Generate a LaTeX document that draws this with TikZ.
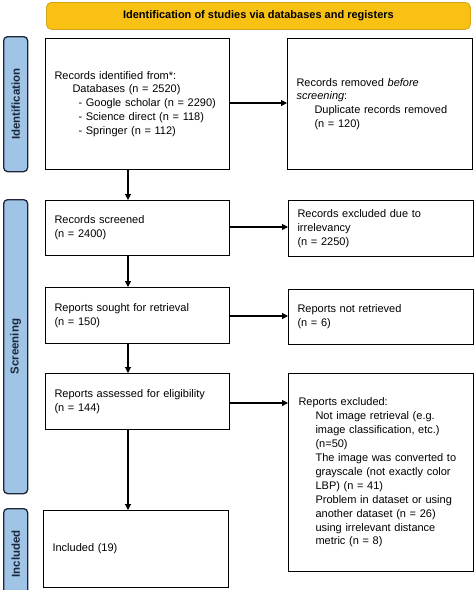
\documentclass[tikz,border=0pt]{standalone}
\usepackage{fontspec}
\setmainfont{Liberation Sans}
\usetikzlibrary{arrows.meta}
\definecolor{barfill}{RGB}{248,193,20}
\definecolor{bardraw}{RGB}{214,164,20}
\definecolor{sidefill}{RGB}{160,196,230}
\definecolor{sidedraw}{RGB}{28,38,58}
\tikzset{
  box/.style={draw=black, line width=1.1pt, anchor=north west, align=left,
    inner xsep=9pt, inner ysep=0pt,
    font=\fontsize{11}{13.9}\selectfont},
  side/.style={draw=sidedraw, fill=sidefill, line width=1.3pt, rounded corners=4pt,
    anchor=north west, minimum width=24pt, inner sep=0pt,
    font=\fontsize{11.5}{13}\selectfont\bfseries, text=sidedraw},
  arr/.style={line width=1.1pt, -{Triangle[length=6pt,width=6pt]}},
}
\begin{document}
\begin{tikzpicture}[x=1pt,y=-1pt]
\useasboundingbox (0,0) rectangle (474,590);
% title bar
\node[draw=bardraw, fill=barfill, line width=0.8pt, rounded corners=5pt, anchor=north west,
  minimum width=424pt, minimum height=27pt, inner sep=0pt,
  font=\fontsize{11}{13}\selectfont\bfseries] (title) at (46,2)
  {Identification of studies via databases and registers};
% side labels
\node[side, minimum height=135pt] (sid) at (3,36) {};
\node[rotate=90, font=\fontsize{11.5}{13}\selectfont\bfseries, text=sidedraw] (sidt) at (sid.center) {Identification};
\node[side, minimum height=294pt] (sscr) at (3,199) {};
\node[rotate=90, font=\fontsize{11.5}{13}\selectfont\bfseries, text=sidedraw] (sscrt) at (sscr.center) {Screening};
\node[side, minimum height=90pt] (sinc) at (3,508) {};
\node[rotate=90, font=\fontsize{11.5}{13}\selectfont\bfseries, text=sidedraw] (sinct) at (sinc.center) {Included};
% left column
\node[box, text width=166pt, minimum height=131pt] (id) at (45,38)
  {Records identified from*:\\
   \hspace*{18pt}Databases (n = 2520)\\
   \hspace*{24pt}- Google scholar (n = 2290)\\
   \hspace*{24pt}- Science direct (n = 118)\\
   \hspace*{24pt}- Springer (n = 112)};
\node[box, text width=166pt, minimum height=55pt] (scr) at (45,200)
  {Records screened\\(n = 2400)};
\node[box, text width=166pt, minimum height=56pt] (sought) at (45,287)
  {Reports sought for retrieval\\(n = 150)};
\node[box, text width=166pt, minimum height=56pt] (assess) at (45,373)
  {Reports assessed for eligibility\\(n = 144)};
\node[box, text width=167pt, minimum height=77pt] (incl) at (43,510)
  {Included (19)};
% right column
\node[box, text width=167pt, minimum height=131pt] (rem) at (287,38)
  {Records removed \textit{before}\\
   \textit{screening}:\\
   \hspace*{18pt}Duplicate records removed\\
   \hspace*{18pt}(n = 120)};
\node[box, text width=167pt, minimum height=56pt] (excl) at (288,200)
  {Records excluded due to\\irrelevancy\\(n = 2250)};
\node[box, text width=167pt, minimum height=55pt] (notret) at (288,289)
  {Reports not retrieved\\(n = 6)};
\node[box, text width=165pt, minimum height=198pt, inner xsep=10pt] (rexcl) at (288,373)
  {Reports excluded:\\
   \hspace*{17pt}Not image retrieval (e.g.\\
   \hspace*{17pt}image classification, etc.)\\
   \hspace*{17pt}(n=50)\\
   \hspace*{17pt}The image was converted to\\
   \hspace*{17pt}grayscale (not exactly color\\
   \hspace*{17pt}LBP) (n = 41)\\
   \hspace*{17pt}Problem in dataset or using\\
   \hspace*{17pt}another dataset (n = 26)\\
   \hspace*{17pt}using irrelevant distance\\
   \hspace*{17pt}metric (n = 8)};
% arrows
\draw[arr] (id.east |- 0,103) -- (rem.west |- 0,103);
\draw[arr] (scr.east |- 0,227) -- (excl.west |- 0,227);
\draw[arr] (sought.east |- 0,316) -- (notret.west |- 0,316);
\draw[arr] (assess.east |- 0,403) -- (rexcl.west |- 0,403);
\draw[arr] (id.south -| 128,0) -- (scr.north -| 128,0);
\draw[arr] (scr.south -| 128,0) -- (sought.north -| 128,0);
\draw[arr] (sought.south -| 128,0) -- (assess.north -| 128,0);
\draw[arr] (assess.south -| 128,0) -- (incl.north -| 128,0);
\end{tikzpicture}
\end{document}
